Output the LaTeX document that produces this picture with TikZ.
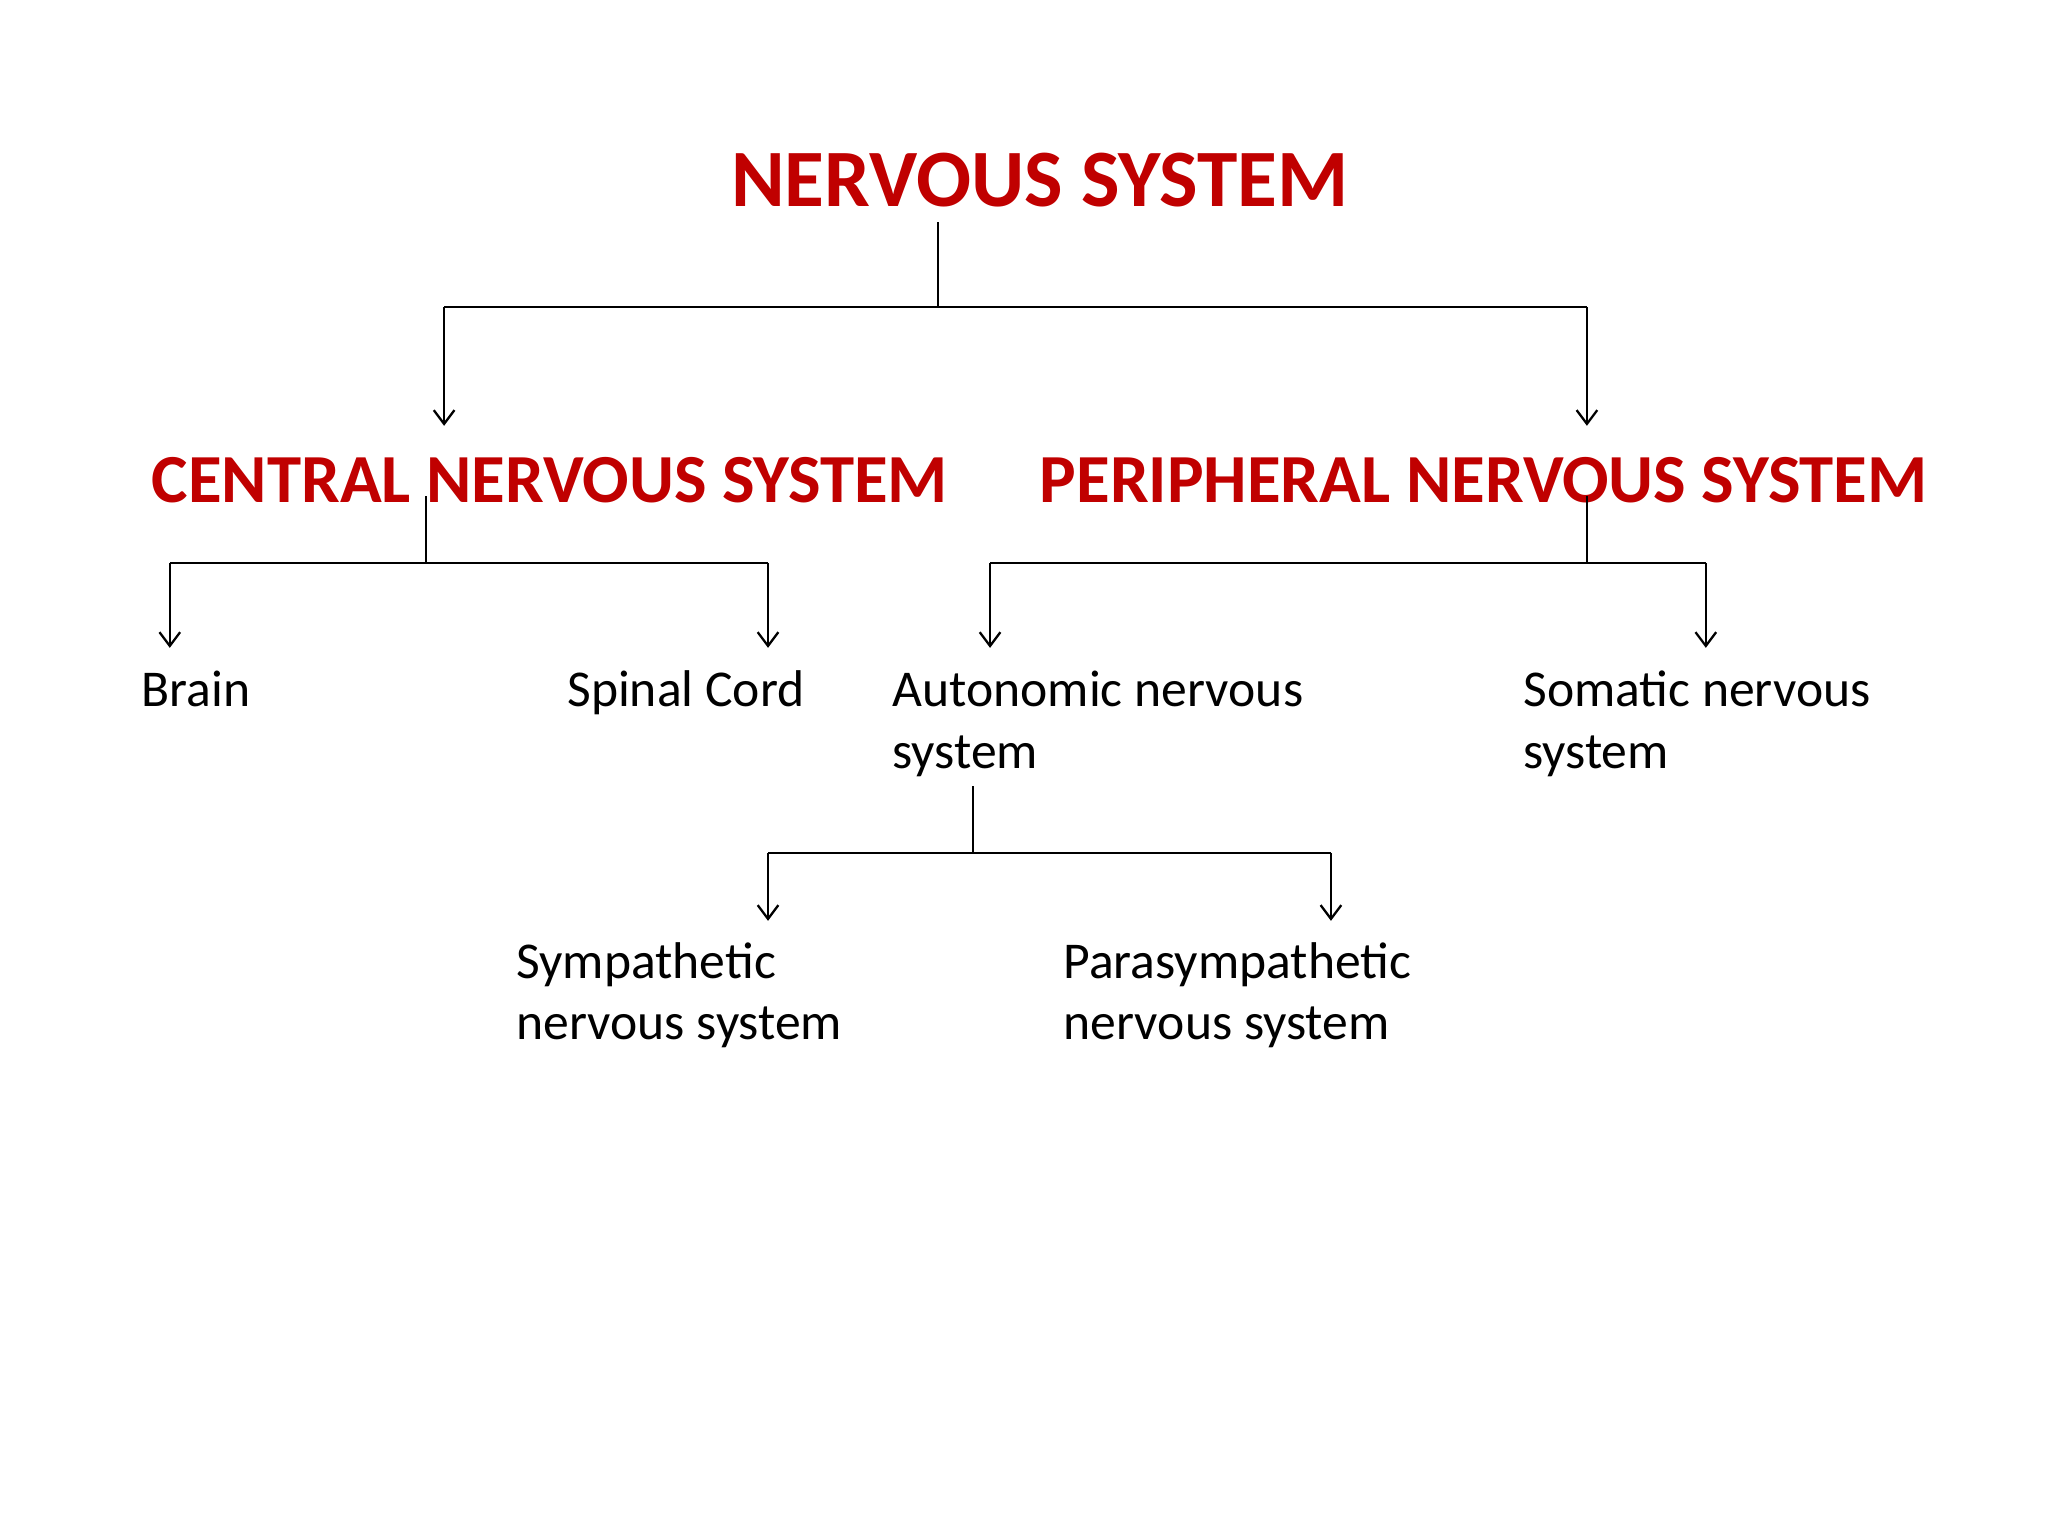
\documentclass[tikz,border=0pt]{standalone}
\usepackage{fontspec}
\usetikzlibrary{arrows.meta}
\setmainfont{Carlito}
\definecolor{tred}{RGB}{192,0,0}
\begin{document}
\begin{tikzpicture}[x=0.02cm,y=-0.02cm,
  head/.style={text=tred,font=\bfseries\fontsize{30}{34}\selectfont,inner sep=0},
  body/.style={font=\fontsize{22.5}{26.6}\selectfont,inner sep=0,anchor=base west,align=left},
  ln/.style={line width=1pt},
  ar/.style={ln,-{Straight Barb[length=6pt,width=9pt]}}]
\useasboundingbox (0,0) rectangle (1568,1176);
\node[head,font=\bfseries\fontsize{35.5}{40}\selectfont] (ns) at (796,138) {NERVOUS SYSTEM};
\node[head] (cns) at (421,368) {CENTRAL NERVOUS SYSTEM};
\node[head] (pns) at (1136,368) {PERIPHERAL NERVOUS SYSTEM};
\node[body] (brain) at (108,541) {Brain};
\node[body] (spinal) at (434,541) {Spinal Cord};
\node[body] (ans) at (683,588) {Autonomic nervous\\system};
\node[body] (sns) at (1166,588) {Somatic nervous\\system};
\node[body] (sym) at (395,796) {Sympathetic\\nervous system};
\node[body] (para) at (814,796) {Parasympathetic\\nervous system};
\coordinate (j1) at (718,235); \coordinate (j1s) at (718,170);
\coordinate (j1l) at (340,235); \coordinate (j1r) at (1215,235);
\coordinate (a1) at (340,326); \coordinate (a2) at (1215,326);
\draw[ln] (j1s) -- (j1);
\draw[ln] (j1l) -- (j1r);
\draw[ar] (j1l) -- (a1);
\draw[ar] (j1r) -- (a2);
\coordinate (c0) at (326,380); \coordinate (c1) at (326,431);
\coordinate (cl) at (130,431); \coordinate (cr) at (588,431);
\coordinate (b1) at (130,496); \coordinate (b2) at (588,496);
\draw[ln] (c0) -- (c1); \draw[ln] (cl) -- (cr);
\draw[ar] (cl) -- (b1); \draw[ar] (cr) -- (b2);
\coordinate (p0) at (1215,380); \coordinate (p1) at (1215,431);
\coordinate (pl) at (758,431); \coordinate (pr) at (1306,431);
\coordinate (q1) at (758,496); \coordinate (q2) at (1306,496);
\draw[ln] (p0) -- (p1); \draw[ln] (pl) -- (pr);
\draw[ar] (pl) -- (q1); \draw[ar] (pr) -- (q2);
\coordinate (n0) at (745,602); \coordinate (n1) at (745,653);
\coordinate (nl) at (588,653); \coordinate (nr) at (1019,653);
\coordinate (m1) at (588,705); \coordinate (m2) at (1019,705);
\draw[ln] (n0) -- (n1); \draw[ln] (nl) -- (nr);
\draw[ar] (nl) -- (m1); \draw[ar] (nr) -- (m2);
\end{tikzpicture}
\end{document}
